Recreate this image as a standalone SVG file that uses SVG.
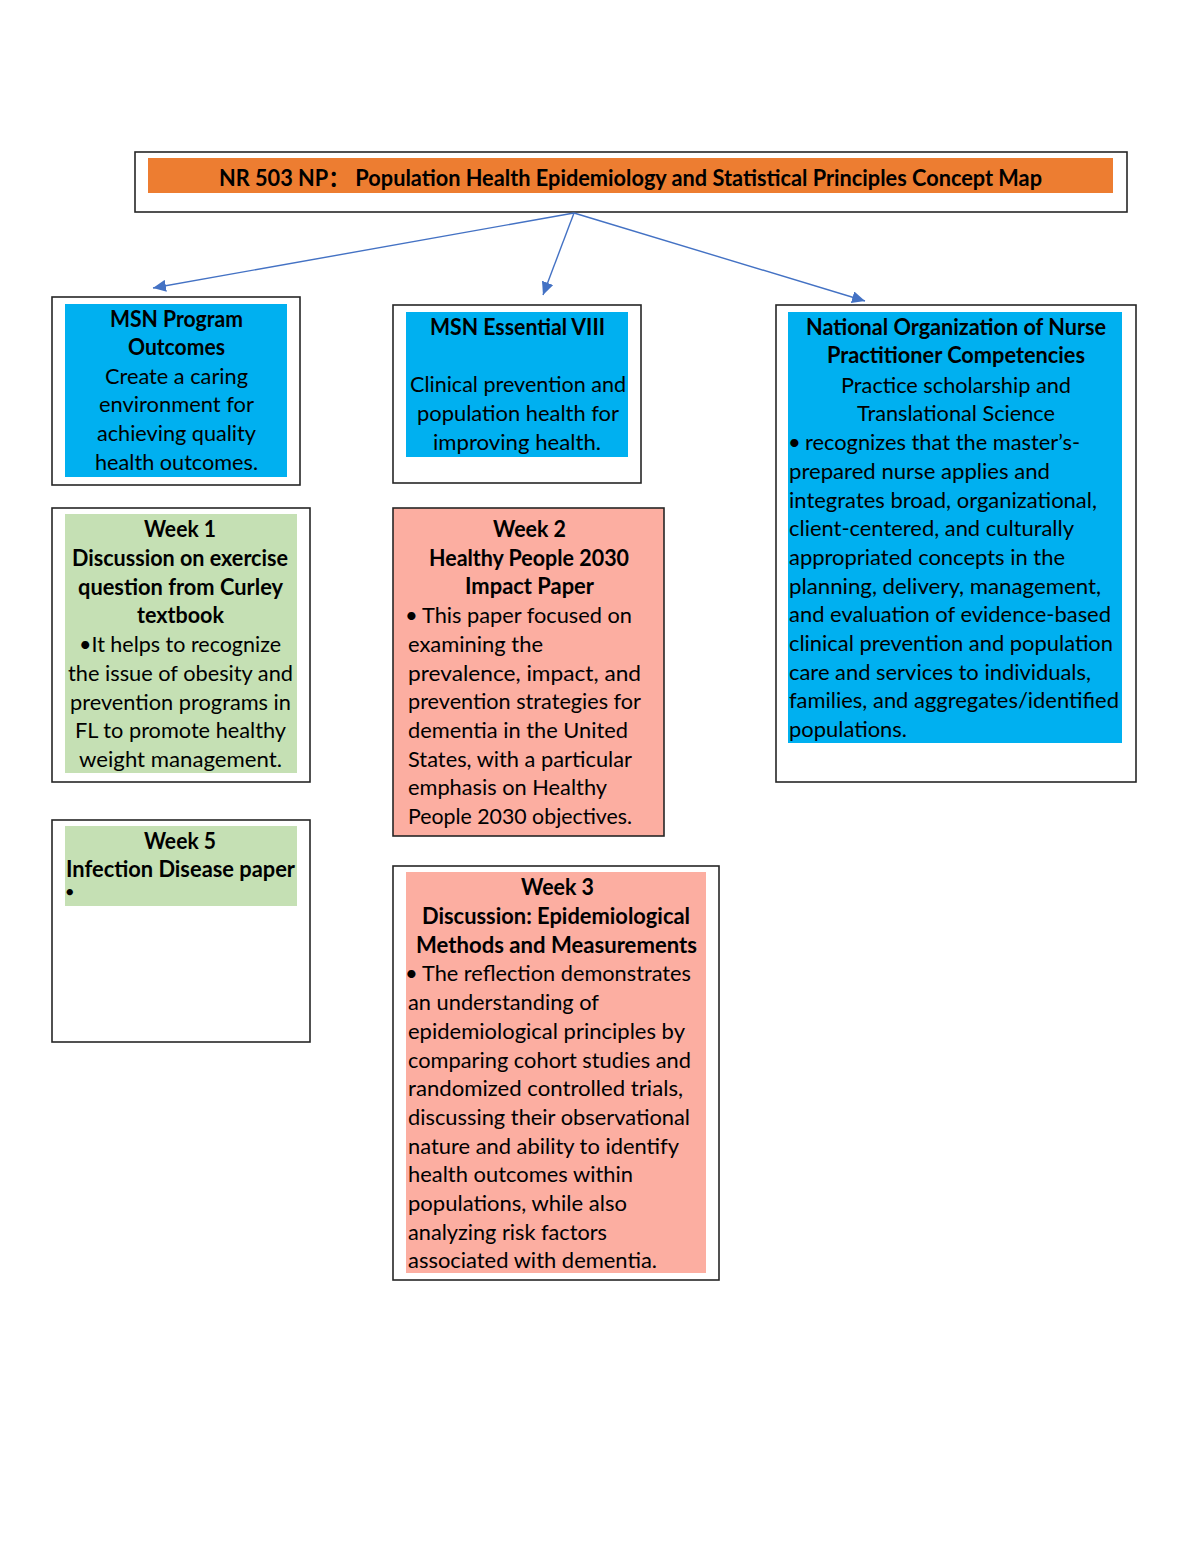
<svg xmlns="http://www.w3.org/2000/svg" width="1200" height="1553" viewBox="0 0 1200 1553">
<defs>
<style>
.frame{fill:#ffffff;stroke:#262626;stroke-width:1.6}
.blue{fill:#00B0F0}
.green{fill:#C5E0B4}
.salmon{fill:#FCAEA1}
.orange{fill:#ED7D31}
text{font-family:Lato,"Liberation Sans","Noto Sans CJK SC",sans-serif;font-size:22px;fill:#000}
.b{font-weight:bold}
.c{text-anchor:middle}
.conn{stroke:#4472C4;stroke-width:1.4;fill:none;marker-end:url(#ah)}
</style>
<marker id="ah" markerUnits="userSpaceOnUse" markerWidth="14" markerHeight="12" refX="13" refY="6" orient="auto">
<path d="M0,0 L13,6 L0,12 z" fill="#4472C4"/>
</marker>
</defs>
<rect width="1200" height="1553" fill="#ffffff"/>

<g id="title">
<rect class="frame" x="135" y="152" width="992" height="60"/>
<rect class="orange" x="148" y="158" width="965" height="35"/>
<text class="b" x="219" y="186" textLength="823" lengthAdjust="spacingAndGlyphs">NR 503 NP：  Population Health Epidemiology and Statistical Principles Concept Map</text>
</g>

<g id="connectors">
<line class="conn" x1="574" y1="213" x2="153" y2="288"/>
<line class="conn" x1="574" y1="213" x2="543" y2="295"/>
<line class="conn" x1="574" y1="213" x2="865" y2="301"/>
</g>

<g id="msn-program-outcomes">
<rect class="frame" x="52" y="297" width="248" height="188"/>
<rect class="blue" x="65" y="304" width="222" height="173"/>
<text class="b" x="110" y="327" textLength="133" lengthAdjust="spacingAndGlyphs">MSN Program</text>
<text class="b" x="128" y="355" textLength="97" lengthAdjust="spacingAndGlyphs">Outcomes</text>
<text x="105" y="384" textLength="143" lengthAdjust="spacingAndGlyphs">Create a caring</text>
<text x="99" y="412" textLength="155" lengthAdjust="spacingAndGlyphs">environment for</text>
<text x="97" y="441" textLength="159" lengthAdjust="spacingAndGlyphs">achieving quality</text>
<text x="95" y="470" textLength="163" lengthAdjust="spacingAndGlyphs">health outcomes.</text>
</g>

<g id="msn-essential-viii">
<rect class="frame" x="393" y="305" width="248" height="178"/>
<rect class="blue" x="406" y="312" width="222" height="145"/>
<text class="b" x="430" y="335" textLength="175" lengthAdjust="spacingAndGlyphs">MSN Essential VIII</text>
<text x="410" y="392" textLength="216" lengthAdjust="spacingAndGlyphs">Clinical prevention and</text>
<text x="417" y="421" textLength="202" lengthAdjust="spacingAndGlyphs">population health for</text>
<text x="433" y="450" textLength="168" lengthAdjust="spacingAndGlyphs">improving health.</text>
</g>

<g id="nonpf-competencies">
<rect class="frame" x="776" y="305" width="360" height="477"/>
<rect class="blue" x="788" y="312" width="334" height="431"/>
<text class="b" x="806" y="335" textLength="300" lengthAdjust="spacingAndGlyphs">National Organization of Nurse</text>
<text class="b" x="827" y="363" textLength="258" lengthAdjust="spacingAndGlyphs">Practitioner Competencies</text>
<text x="841" y="393" textLength="230" lengthAdjust="spacingAndGlyphs">Practice scholarship and</text>
<text x="857" y="421" textLength="198" lengthAdjust="spacingAndGlyphs">Translational Science</text>
<text x="788" y="450">•</text>
<text x="805" y="450" textLength="275" lengthAdjust="spacingAndGlyphs">recognizes that the master’s-</text>
<text x="789" y="479" textLength="261" lengthAdjust="spacingAndGlyphs">prepared nurse applies and</text>
<text x="789" y="508" textLength="308" lengthAdjust="spacingAndGlyphs">integrates broad, organizational,</text>
<text x="789" y="536" textLength="285" lengthAdjust="spacingAndGlyphs">client-centered, and culturally</text>
<text x="789" y="565" textLength="276" lengthAdjust="spacingAndGlyphs">appropriated concepts in the</text>
<text x="789" y="594" textLength="312" lengthAdjust="spacingAndGlyphs">planning, delivery, management,</text>
<text x="789" y="622" textLength="322" lengthAdjust="spacingAndGlyphs">and evaluation of evidence-based</text>
<text x="789" y="651" textLength="324" lengthAdjust="spacingAndGlyphs">clinical prevention and population</text>
<text x="789" y="680" textLength="302" lengthAdjust="spacingAndGlyphs">care and services to individuals,</text>
<text x="789" y="708" textLength="330" lengthAdjust="spacingAndGlyphs">families, and aggregates/identified</text>
<text x="789" y="737" textLength="118" lengthAdjust="spacingAndGlyphs">populations.</text>
</g>

<g id="week1">
<rect class="frame" x="52" y="508" width="258" height="274"/>
<rect class="green" x="65" y="514" width="232" height="259"/>
<text class="b" x="144" y="537" textLength="72" lengthAdjust="spacingAndGlyphs">Week 1</text>
<text class="b" x="72" y="566" textLength="216" lengthAdjust="spacingAndGlyphs">Discussion on exercise</text>
<text class="b" x="78" y="595" textLength="205" lengthAdjust="spacingAndGlyphs">question from Curley</text>
<text class="b" x="137" y="623" textLength="87" lengthAdjust="spacingAndGlyphs">textbook</text>
<text x="79" y="652" textLength="202" lengthAdjust="spacingAndGlyphs">•It helps to recognize</text>
<text x="68" y="681" textLength="225" lengthAdjust="spacingAndGlyphs">the issue of obesity and</text>
<text x="70" y="710" textLength="221" lengthAdjust="spacingAndGlyphs">prevention programs in</text>
<text x="75" y="738" textLength="211" lengthAdjust="spacingAndGlyphs">FL to promote healthy</text>
<text x="79" y="767" textLength="203" lengthAdjust="spacingAndGlyphs">weight management.</text>
</g>

<g id="week5">
<rect class="frame" x="52" y="820" width="258" height="222"/>
<rect class="green" x="65" y="826" width="232" height="80"/>
<text class="b" x="144" y="849" textLength="72" lengthAdjust="spacingAndGlyphs">Week 5</text>
<text class="b" x="66" y="877" textLength="229" lengthAdjust="spacingAndGlyphs">Infection Disease paper</text>
<text x="64" y="899" style="font-family:'DejaVu Sans',sans-serif;font-size:18px;font-weight:bold">•</text>
</g>

<g id="week2">
<rect class="frame" x="393" y="508" width="271" height="328" style="fill:#FCAEA1"/>
<text class="b" x="493" y="537" textLength="73" lengthAdjust="spacingAndGlyphs">Week 2</text>
<text class="b" x="429" y="566" textLength="200" lengthAdjust="spacingAndGlyphs">Healthy People 2030</text>
<text class="b" x="465" y="594" textLength="129" lengthAdjust="spacingAndGlyphs">Impact Paper</text>
<text x="405" y="623">•</text>
<text x="422" y="623" textLength="210" lengthAdjust="spacingAndGlyphs">This paper focused on</text>
<text x="408" y="652" textLength="135" lengthAdjust="spacingAndGlyphs">examining the</text>
<text x="408" y="681" textLength="233" lengthAdjust="spacingAndGlyphs">prevalence, impact, and</text>
<text x="408" y="709" textLength="233" lengthAdjust="spacingAndGlyphs">prevention strategies for</text>
<text x="408" y="738" textLength="220" lengthAdjust="spacingAndGlyphs">dementia in the United</text>
<text x="408" y="767" textLength="224" lengthAdjust="spacingAndGlyphs">States, with a particular</text>
<text x="408" y="795" textLength="199" lengthAdjust="spacingAndGlyphs">emphasis on Healthy</text>
<text x="408" y="824" textLength="224" lengthAdjust="spacingAndGlyphs">People 2030 objectives.</text>
</g>

<g id="week3">
<rect class="frame" x="393" y="866" width="326" height="414"/>
<rect class="salmon" x="406" y="872" width="300" height="401"/>
<text class="b" x="521" y="895" textLength="73" lengthAdjust="spacingAndGlyphs">Week 3</text>
<text class="b" x="422" y="924" textLength="268" lengthAdjust="spacingAndGlyphs">Discussion: Epidemiological</text>
<text class="b" x="416" y="953" textLength="281" lengthAdjust="spacingAndGlyphs">Methods and Measurements</text>
<text x="405" y="981">•</text>
<text x="422" y="981" textLength="269" lengthAdjust="spacingAndGlyphs">The reflection demonstrates</text>
<text x="408" y="1010" textLength="191" lengthAdjust="spacingAndGlyphs">an understanding of</text>
<text x="408" y="1039" textLength="277" lengthAdjust="spacingAndGlyphs">epidemiological principles by</text>
<text x="408" y="1068" textLength="283" lengthAdjust="spacingAndGlyphs">comparing cohort studies and</text>
<text x="408" y="1096" textLength="275" lengthAdjust="spacingAndGlyphs">randomized controlled trials,</text>
<text x="408" y="1125" textLength="282" lengthAdjust="spacingAndGlyphs">discussing their observational</text>
<text x="408" y="1154" textLength="271" lengthAdjust="spacingAndGlyphs">nature and ability to identify</text>
<text x="408" y="1182" textLength="225" lengthAdjust="spacingAndGlyphs">health outcomes within</text>
<text x="408" y="1211" textLength="219" lengthAdjust="spacingAndGlyphs">populations, while also</text>
<text x="408" y="1240" textLength="199" lengthAdjust="spacingAndGlyphs">analyzing risk factors</text>
<text x="408" y="1268" textLength="249" lengthAdjust="spacingAndGlyphs">associated with dementia.</text>
</g>
</svg>
